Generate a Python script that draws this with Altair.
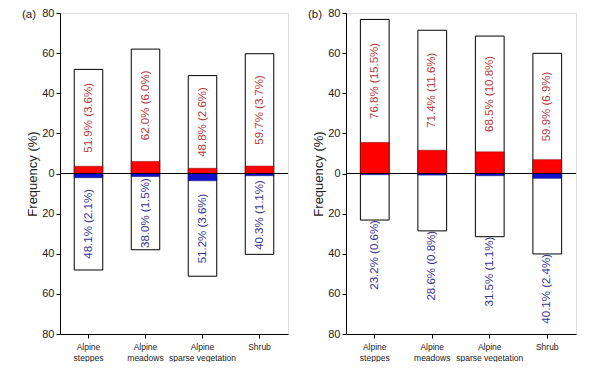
import altair as alt
import pandas as pd

categories = ["Alpine|steppes", "Alpine|meadows", "Alpine|sparse vegetation", "Shrub"]

a_up_total = [51.9, 62.0, 48.8, 59.7]
a_up_sig = [3.6, 6.0, 2.6, 3.7]
a_dn_total = [48.1, 38.0, 51.2, 40.3]
a_dn_sig = [2.1, 1.5, 3.6, 1.1]

b_up_total = [76.8, 71.4, 68.5, 59.9]
b_up_sig = [15.5, 11.6, 10.8, 6.9]
b_dn_total = [23.2, 28.6, 31.5, 40.1]
b_dn_sig = [0.6, 0.8, 1.1, 2.4]

y_ticks = [-80, -60, -40, -20, 0, 20, 40, 60, 80]

FONT = "Liberation Sans"
RED = "#ff0000"
BLUE = "#1010cc"
RED_TXT = "#b23a3a"
BLUE_TXT = "#33338f"


def panel(up_total, up_sig, dn_total, dn_sig, letter, outside, width):
    df = pd.DataFrame({
        "cat": categories,
        "up_total": up_total,
        "up_sig": up_sig,
        "dn_total": dn_total,
        "dn_sig": dn_sig,
    })
    base = alt.Chart(df).transform_calculate(
        dn_total_neg="-datum.dn_total",
        dn_sig_neg="-datum.dn_sig",
        up_mid="(datum.up_total + datum.up_sig) / 2",
        dn_mid="-(datum.dn_total + datum.dn_sig) / 2",
        up_label="format(datum.up_total, '.1f') + '% (' + format(datum.up_sig, '.1f') + '%)'",
        dn_label="format(datum.dn_total, '.1f') + '% (' + format(datum.dn_sig, '.1f') + '%)'",
    )
    x = alt.X(
        "cat:N",
        sort=categories,
        scale=alt.Scale(paddingInner=0.5, paddingOuter=0.25),
        axis=alt.Axis(
            title=None,
            labelAngle=0,
            labelExpr="split(datum.label, '|')",
            labelFont=FONT,
            labelFontSize=8.5,
            labelColor="#222",
            labelLineHeight=11,
            labelPadding=4,
            domainColor="black",
            tickColor="black",
            tickSize=4,
        ),
    )
    yscale = alt.Scale(domain=[-80, 80], nice=False)
    yaxis = alt.Axis(
        title="Frequency (%)",
        values=y_ticks,
        labelExpr="abs(datum.value)",
        grid=False,
        domainColor="black",
        tickColor="black",
        tickSize=4,
        labelFont=FONT,
        labelFontSize=11,
        labelColor="#222",
        titleFont=FONT,
        titleFontSize=13,
        titleFontWeight="normal",
        titleColor="#222",
        titlePadding=2,
    )

    white_up = base.mark_bar(fill="white", stroke="black", strokeWidth=1).encode(
        x=x, y=alt.Y("up_total:Q", scale=yscale, axis=yaxis), y2=alt.datum(0)
    )
    white_dn = base.mark_bar(fill="white", stroke="black", strokeWidth=1).encode(
        x=x, y=alt.Y("dn_total_neg:Q"), y2=alt.datum(0)
    )
    red = base.mark_bar(color=RED, stroke="#7a0000", strokeWidth=0.5).encode(
        x=x, y=alt.Y("up_sig:Q"), y2=alt.datum(0)
    )
    blue = base.mark_bar(color=BLUE, stroke="#000066", strokeWidth=0.5).encode(
        x=x, y=alt.Y("dn_sig_neg:Q"), y2=alt.datum(0)
    )
    zero = alt.Chart(pd.DataFrame({"z": [0]})).mark_rule(color="black", strokeWidth=1).encode(
        y=alt.Y("z:Q")
    )
    up_txt = base.mark_text(
        angle=270, font=FONT, fontSize=11.5, color=RED_TXT, baseline="middle", align="center"
    ).encode(x=x, y=alt.Y("up_mid:Q"), text="up_label:N")
    if outside:
        dn_txt = base.mark_text(
            angle=270, font=FONT, fontSize=11.5, color=BLUE_TXT, baseline="middle", align="right"
        ).encode(x=x, y=alt.Y("dn_total_neg:Q"), text="dn_label:N")
    else:
        dn_txt = base.mark_text(
            angle=270, font=FONT, fontSize=11.5, color=BLUE_TXT, baseline="middle", align="center"
        ).encode(x=x, y=alt.Y("dn_mid:Q"), text="dn_label:N")
    tag = alt.Chart(pd.DataFrame({"t": [letter]})).mark_text(
        font=FONT, fontSize=11.5, color="#222", align="center", baseline="middle"
    ).encode(text="t:N", x=alt.value(-31), y=alt.value(2))

    return alt.layer(white_up, white_dn, red, blue, zero, up_txt, dn_txt, tag).properties(
        width=width, height=321
    )


pa = panel(a_up_total, a_up_sig, a_dn_total, a_dn_sig, "(a)", False, 228)
pb = panel(b_up_total, b_up_sig, b_dn_total, b_dn_sig, "(b)", True, 230)

chart = alt.hconcat(pa, pb, spacing=18).properties(
    padding={"left": 13, "top": -2, "right": 0, "bottom": 0}
).configure_view(stroke=None).configure(background="white")

chart.save("out.html", embed_options={"renderer": "svg", "actions": False})
